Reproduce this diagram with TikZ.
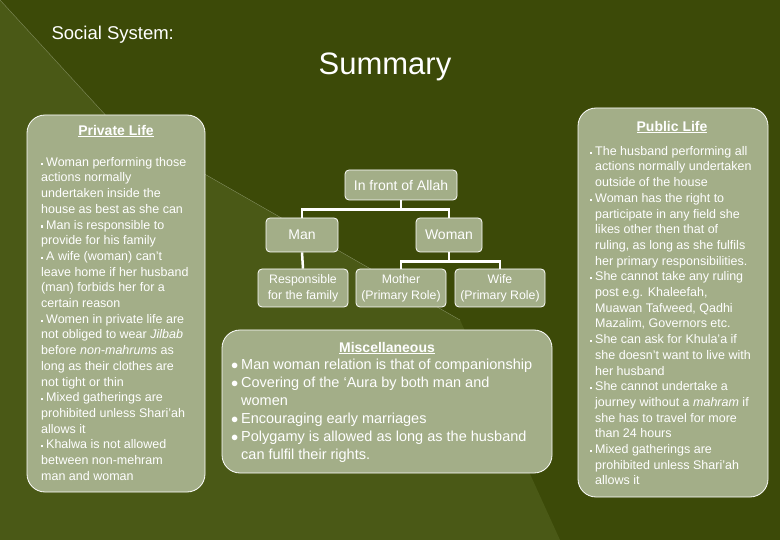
\documentclass[tikz,border=0pt]{standalone}
\usepackage{fontspec}
\setmainfont{Liberation Sans}
\newcommand{\bx}{\makebox[5pt][l]{\raisebox{1.5pt}{\rule{2.2pt}{2.2pt}}}}
\begin{document}
\begin{tikzpicture}[x=1pt,y=-1pt,
  panel/.style={fill=boxg,draw=white,line width=0.8pt,rounded corners=18pt},
  tbox/.style={fill=boxg,draw=white,line width=0.8pt,rounded corners=4pt,text=white,align=center,font=\fontsize{14}{16}\selectfont,inner sep=2pt},
  body/.style={text=white,anchor=north west,font=\fontsize{12.5}{15.7}\selectfont,inner sep=0pt},
  link/.style={white,line width=2.5pt}]
\definecolor{bgd}{HTML}{3C4A08}
\definecolor{bgl}{HTML}{4A5916}
\definecolor{boxg}{HTML}{A3AE88}
\useasboundingbox (0,0) rectangle (780,540);
\fill[bgd] (0,0) rectangle (780,540);
\fill[bgl] (0,0) -- (110,120) -- (460,320) -- (560,540) -- (0,540) -- cycle;
\draw[bgl!70!white,line width=0.4pt] (0,0) -- (110,120) -- (460,320);
\node[text=white,anchor=west,font=\fontsize{18.5}{20}\selectfont] (ss) at (48,35) {Social System:};
\node[text=white,font=\fontsize{31}{34}\selectfont] (sum) at (385,67) {Summary};
% panels
\fill[panel] (27,115) rectangle (205,492);
\node[text=white,font=\bfseries\fontsize{14}{16}\selectfont] (priv) at (116,131) {\underline{Private Life}};
\node[body,align=left] (privt) at (41,157) {%
\bx Woman performing those\\
actions normally\\
undertaken inside the\\
house as best as she can\\
\bx Man is responsible to\\
provide for his family\\
\bx A wife (woman) can't\\
leave home if her husband\\
(man) forbids her for a\\
certain reason\\
\bx Women in private life are\\
not obliged to wear \textit{Jilbab}\\
before \textit{non-mahrums} as\\
long as their clothes  are\\
not  tight or thin\\
\bx Mixed gatherings are\\
prohibited unless Shari'ah\\
allows it\\
\bx Khalwa is not allowed\\
between non-mehram\\
man and woman};
\fill[panel] (578,108) rectangle (768,497);
\node[text=white,font=\bfseries\fontsize{14}{16}\selectfont] (pub) at (672,127) {\underline{Public Life}};
\node[body,align=left] (pubt) at (590,146) {%
\bx The husband performing all\\
\hspace{5pt}actions normally undertaken\\
\hspace{5pt}outside of the house\\
\bx Woman has the right to\\
\hspace{5pt}participate in any field she\\
\hspace{5pt}likes other then that of\\
\hspace{5pt}ruling, as long as she fulfils\\
\hspace{5pt}her primary responsibilities.\\
\bx She cannot take any ruling\\
\hspace{5pt}post e.g. Khaleefah,\\
\hspace{5pt}Muawan Tafweed, Qadhi\\
\hspace{5pt}Mazalim, Governors etc.\\
\bx She can ask for Khula'a if\\
\hspace{5pt}she doesn't want to live with\\
\hspace{5pt}her husband\\
\bx She cannot undertake a\\
\hspace{5pt}journey without a \textit{mahram} if\\
\hspace{5pt}she has to travel for more\\
\hspace{5pt}than 24 hours\\
\bx Mixed gatherings are\\
\hspace{5pt}prohibited unless Shari'ah\\
\hspace{5pt}allows it};
% tree
\node[tbox,minimum width=112pt,minimum height=30pt] (allah) at (401,185) {In front of Allah};
\node[tbox,minimum width=72pt,minimum height=34pt] (man) at (302,235) {Man};
\node[tbox,minimum width=66pt,minimum height=34pt] (woman) at (449,235) {Woman};
\node[tbox,minimum width=90pt,minimum height=38pt,font=\fontsize{12.3}{16}\selectfont] (resp) at (303,288) {Responsible\\for the family};
\node[tbox,minimum width=90pt,minimum height=38pt,font=\fontsize{12.3}{16}\selectfont] (moth) at (401,288) {Mother\\(Primary Role)};
\node[tbox,minimum width=90pt,minimum height=38pt,font=\fontsize{12.3}{16}\selectfont] (wife) at (500,288) {Wife\\(Primary Role)};
\draw[link] (allah.south) -- ++(0,9) -| (man.north);
\draw[link] (allah.south) ++(0,9) -| (woman.north);
\draw[link] (man.south) -- (resp.north);
\draw[link] (woman.south) -- ++(0,9) -| (moth.north);
\draw[link] (woman.south) ++(0,9) -| (wife.north);
\fill[panel] (222,330) rectangle (552,473);
\node[text=white,font=\bfseries\fontsize{14}{16}\selectfont] (misc) at (387,348) {\underline{Miscellaneous}};
\node[body,align=left,font=\fontsize{14.5}{18}\selectfont] (misct) at (231,359) {%
\makebox[10pt][l]{$\bullet$}Man woman relation is that of companionship\\
\makebox[10pt][l]{$\bullet$}Covering of the `Aura by both man and\\\makebox[10pt][l]{}women\\
\makebox[10pt][l]{$\bullet$}Encouraging early marriages\\
\makebox[10pt][l]{$\bullet$}Polygamy is allowed as long as the husband\\\makebox[10pt][l]{}can fulfil their rights.};
\end{tikzpicture}
\end{document}
